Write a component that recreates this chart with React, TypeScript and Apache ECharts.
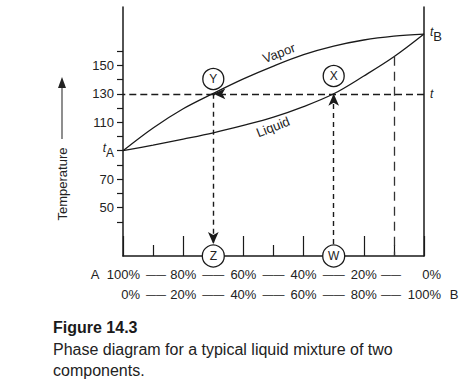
import React, { useEffect, useRef } from 'react';
import * as echarts from 'echarts';

// ---- data ----
const compositionB = [0, 10, 20, 30, 40, 50, 60, 70, 80, 90, 100];
const vaporTemp = [90, 106, 119.5, 130.3, 140.5, 149.5, 157.5, 163.5, 167.8, 170.5, 172];
const liquidTemp = [90, 94, 98.2, 102.6, 107.8, 113.6, 121, 130, 142.5, 156, 172];

const yTickValues = [40, 50, 60, 70, 80, 90, 100, 110, 120, 130, 140, 150, 160];
const yLabelValues = [50, 70, 90, 110, 130, 150];
const xLabelValues = [0, 10, 20, 30, 40, 50, 60, 70, 80, 90, 100];
const rightLabelValues = [130, 172];

const isoTemp = 130;
const tieLeftB = 30;
const tieRightB = 70;
const circleTopTemp = 24.5;
const markB = 90;
const markTemp = 156;

const circleNames = ['Y', 'X', 'Z', 'W'];
const circleB = [30, 70, 30, 70];
const circleTemp = [140.4, 142.5, 16, 16];

const yMin = 16;
const yMax = 191;

const captionTitle = 'Figure 14.3';
const captionLines = ['Phase diagram for a typical liquid mixture of two', 'components.'];

const FONT = '"Liberation Sans", Arial, Helvetica, sans-serif';
const INK = '#1a1a1a';

export default function App() {
  const ref = useRef<HTMLDivElement>(null);

  useEffect(() => {
    if (!ref.current) return;
    const chart = echarts.init(ref.current, undefined, { renderer: 'svg' });

    const vaporData = compositionB.map((b, i) => [b, vaporTemp[i]]);
    const liquidData = compositionB.map((b, i) => [b, liquidTemp[i]]);
    const circles = circleNames.map((n, i) => ({
      name: n,
      value: [circleB[i], circleTemp[i]],
      symbolSize: i < 2 ? 21 : 22,
    }));

    const arrowEnd = { symbol: 'arrow', symbolSize: [8, 12] };
    const noSym = { symbol: 'none' };

    const option: any = {
      animation: false,
      backgroundColor: '#ffffff',
      textStyle: { fontFamily: FONT },
      grid: { left: 123, right: 50, top: 7, bottom: 135, containLabel: false },
      xAxis: {
        type: 'value',
        min: 0,
        max: 100,
        interval: 20,
        axisLine: { show: true, onZero: false, lineStyle: { color: INK, width: 1.5 } },
        axisTick: { show: true, inside: true, length: 20, lineStyle: { color: INK, width: 1.2 } },
        minorTick: { show: true, splitNumber: 2, length: 11, lineStyle: { color: INK, width: 1.2 } },
        splitLine: { show: false },
        axisLabel: {
          customValues: xLabelValues,
          showMinLabel: true,
          showMaxLabel: true,
          hideOverlap: false,
          margin: 8,
          fontSize: 13,
          lineHeight: 20,
          color: '#222',
          fontFamily: FONT,
          formatter: (v: number) => {
            if (v % 20 === 0) {
              if (v === 0 || v === 100) return `{e|${100 - v}%}\n{e|${v}%}`;
              return `{n|${100 - v}%}\n{n|${v}%}`;
            }
            if (v === 10) return '{dl|——}\n{dl|——}';
            if (v === 90) return '{dr|——}\n{dr|——}';
            return '{d|——}\n{d|——}';
          },
          rich: {
            n: { fontSize: 13, lineHeight: 20, color: '#222', fontFamily: FONT },
            e: { fontSize: 13, lineHeight: 20, width: 34, align: 'right', color: '#222', fontFamily: FONT },
            d: { fontSize: 11, lineHeight: 20, color: '#222', fontFamily: FONT },
            dl: { fontSize: 10, lineHeight: 20, padding: [0, 0, 0, 6], color: '#222', fontFamily: FONT },
            dr: { fontSize: 10, lineHeight: 20, padding: [0, 6, 0, 0], color: '#222', fontFamily: FONT },
          },
        },
      },
      yAxis: [
        {
          type: 'value',
          min: yMin,
          max: yMax,
          position: 'left',
          axisLine: { show: true, onZero: false, lineStyle: { color: INK, width: 1.5 } },
          axisTick: { show: true, customValues: yTickValues, length: 6, lineStyle: { color: INK, width: 1.2 } },
          splitLine: { show: false },
          axisLabel: {
            customValues: yLabelValues,
            margin: 9,
            fontSize: 13,
            color: '#222',
            fontFamily: FONT,
            formatter: (v: number) => (v === 90 ? '{t|t}{a|A}' : String(v)),
            rich: {
              t: { fontSize: 12, fontStyle: 'italic', color: '#222', padding: [0, 0, 6, 0], fontFamily: FONT },
              a: { fontSize: 12, color: '#222', padding: [5, 0, 0, 0], fontFamily: FONT },
            },
          },
        },
        {
          type: 'value',
          min: yMin,
          max: yMax,
          position: 'right',
          axisLine: { show: true, onZero: false, lineStyle: { color: INK, width: 1.5 } },
          axisTick: { show: false },
          splitLine: { show: false },
          axisLabel: {
            customValues: rightLabelValues,
            margin: 6,
            fontSize: 12,
            color: '#222',
            fontFamily: FONT,
            formatter: (v: number) => (v === 130 ? '{t|t}' : '{s|t}{b|B}'),
            rich: {
              t: { fontSize: 12, fontStyle: 'italic', color: '#222', fontFamily: FONT },
              s: { fontSize: 12, fontStyle: 'italic', color: '#222', padding: [0, 0, 5, 0], fontFamily: FONT },
              b: { fontSize: 13, color: '#222', padding: [5, 0, 0, 0], fontFamily: FONT },
            },
          },
        },
      ],
      series: [
        {
          name: 'Vapor',
          type: 'line',
          data: vaporData,
          smooth: 0.35,
          showSymbol: false,
          lineStyle: { color: INK, width: 1.3 },
          z: 2,
        },
        {
          name: 'Liquid',
          type: 'line',
          data: liquidData,
          smooth: 0.35,
          showSymbol: false,
          lineStyle: { color: INK, width: 1.3 },
          z: 2,
          markLine: {
            silent: true,
            animation: false,
            symbol: ['none', 'none'],
            label: { show: false },
            lineStyle: { color: INK, width: 1.4, type: [7, 4] },
            data: [
              [{ coord: [100, isoTemp], ...noSym }, { coord: [tieLeftB, isoTemp], ...arrowEnd }],
              [{ coord: [tieLeftB, isoTemp], ...noSym }, { coord: [0, isoTemp], ...noSym }],
              [
                { coord: [tieLeftB, isoTemp], ...noSym, lineStyle: { type: [5, 4], width: 1.4, color: INK } },
                { coord: [tieLeftB, circleTopTemp], ...arrowEnd },
              ],
              [
                { coord: [tieRightB, circleTopTemp], ...noSym, lineStyle: { type: [5, 4], width: 1.4, color: INK } },
                { coord: [tieRightB, isoTemp], ...arrowEnd },
              ],
              [
                { coord: [markB, markTemp], ...noSym, lineStyle: { type: [9, 6], width: 1.3, color: '#333' } },
                { coord: [markB, yMin], ...noSym },
              ],
            ],
          },
        },
        {
          name: 'Points',
          type: 'scatter',
          data: circles,
          symbol: 'circle',
          clip: false,
          z: 5,
          itemStyle: { color: '#ffffff', borderColor: INK, borderWidth: 1.3, opacity: 1 },
          label: {
            show: true,
            position: 'inside',
            formatter: (p: any) => p.name,
            fontSize: 12,
            color: '#222',
            fontFamily: FONT,
          },
        },
      ],
      graphic: [
        {
          type: 'text',
          x: 279,
          y: 53,
          rotation: 0.36,
          style: { text: 'Vapor', fontSize: 13, fontFamily: FONT, fill: '#222', align: 'center', verticalAlign: 'middle' },
        },
        {
          type: 'text',
          x: 273,
          y: 127,
          rotation: 0.38,
          style: { text: 'Liquid', fontSize: 13, fontFamily: FONT, fill: '#222', align: 'center', verticalAlign: 'middle' },
        },
        {
          type: 'text',
          x: 62,
          y: 184,
          rotation: Math.PI / 2,
          style: { text: 'Temperature', fontSize: 13, fontFamily: FONT, fill: '#222', align: 'center', verticalAlign: 'middle' },
        },
        {
          type: 'line',
          shape: { x1: 62, y1: 139, x2: 62, y2: 86 },
          style: { stroke: '#444', lineWidth: 1.2 },
        },
        {
          type: 'polygon',
          shape: { points: [[58, 88], [62, 77], [66, 88]] },
          style: { fill: '#222' },
        },
        {
          type: 'text',
          x: 95,
          y: 274,
          style: { text: 'A', fontSize: 13, fontFamily: FONT, fill: '#222', align: 'center', verticalAlign: 'middle' },
        },
        {
          type: 'text',
          x: 454,
          y: 294,
          style: { text: 'B', fontSize: 13, fontFamily: FONT, fill: '#222', align: 'center', verticalAlign: 'middle' },
        },
        {
          type: 'text',
          x: 53,
          y: 327,
          style: { text: captionTitle, fontSize: 16, fontWeight: 'bold', fontFamily: FONT, fill: '#1a1a1a', align: 'left', verticalAlign: 'middle' },
        },
        {
          type: 'text',
          x: 53,
          y: 349,
          style: { text: captionLines[0], fontSize: 16, fontFamily: FONT, fill: '#222', align: 'left', verticalAlign: 'middle' },
        },
        {
          type: 'text',
          x: 53,
          y: 370,
          style: { text: captionLines[1], fontSize: 16, fontFamily: FONT, fill: '#222', align: 'left', verticalAlign: 'middle' },
        },
      ],
    };

    chart.setOption(option);
    return () => chart.dispose();
  }, []);

  return (
    <div
      ref={ref}
      style={{ position: 'fixed', left: 0, top: 0, width: 474, height: 391, background: '#fff' }}
    />
  );
}
